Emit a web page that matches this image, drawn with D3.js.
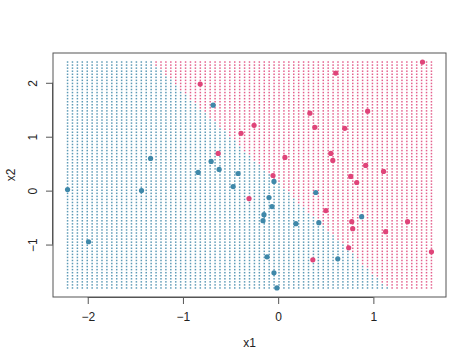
<!DOCTYPE html>
<html><head><meta charset="utf-8">
<script src="https://cdn.jsdelivr.net/npm/d3@7"></script>
<style>body{margin:0;background:#fff}svg{display:block}</style>
</head><body>
<svg id="c" width="474" height="364"></svg>
<script>
// observations: class -1 (blue) and class 1 (pink)
const blueX1 = [-2.212,-1.992,-1.340,-1.435,-0.683,-0.840,-0.704,-0.620,-0.421,-0.473,-0.096,-0.044,-0.065,-0.149,-0.159,-0.117,-0.044,-0.013,0.186,0.395,0.427,0.877,0.626];
const blueX2 = [0.020,-0.948,0.598,0.002,1.585,0.337,0.542,0.393,0.318,0.076,-0.128,0.170,-0.296,-0.445,-0.557,-1.228,-1.525,-1.805,-0.613,-0.035,-0.594,-0.482,-1.265];
const pinkX1 = [-0.819,-0.253,-0.390,-0.630,0.071,-0.054,0.333,0.385,-0.306,0.605,0.940,0.699,0.553,0.574,0.919,1.107,0.762,0.825,1.516,0.501,0.773,0.783,1.129,1.359,0.741,0.364,1.610];
const pinkX2 = [1.976,1.212,1.063,0.691,0.616,0.281,1.436,1.175,-0.147,2.181,1.473,1.156,0.691,0.561,0.467,0.356,0.263,0.151,2.385,-0.370,-0.575,-0.705,-0.761,-0.575,-1.059,-1.283,-1.133];
// decision boundary: x1 where the prediction switches, at given x2
const boundaryX2 = [2.39, -1.80];
const boundaryX1 = [-1.33, 1.15];
const gridN = 75;
const xTicks = [-2,-1,0,1];
const yTicks = [-1,0,1,2];
const colBlue = "#3f88a9", colPink = "#df4479";

const svg = d3.select("#c");
const L=53,R=446,T=53,B=297;
const allX1 = blueX1.concat(pinkX1), allX2 = blueX2.concat(pinkX2);
const ex = d3.extent(allX1), ey = d3.extent(allX2);
const pad = (e)=>{const d=(e[1]-e[0])*0.04;return [e[0]-d,e[1]+d];};
const x = d3.scaleLinear().domain(pad(ex)).range([L,R]);
const y = d3.scaleLinear().domain(pad(ey)).range([B,T]);

// grid (like make.grid)
const gx = d3.range(gridN).map(i=>ex[0]+(ex[1]-ex[0])*i/(gridN-1));
const gy = d3.range(gridN).map(i=>ey[0]+(ey[1]-ey[0])*i/(gridN-1));
const bnd = d3.scaleLinear().domain(boundaryX2).range(boundaryX1);
const grid=[];
gy.forEach(v=>gx.forEach(u=>grid.push({u,v,c:u>bnd(v)?1:-1})));
svg.append("g").selectAll("rect").data(grid).join("rect")
  .attr("x",d=>x(d.u)-0.75).attr("y",d=>y(d.v)-0.75).attr("width",1.5).attr("height",1.5)
  .attr("fill",d=>d.c>0?colPink:colBlue).attr("opacity",0.85);

const pts = blueX1.map((v,i)=>({u:v,v:blueX2[i],c:-1})).concat(pinkX1.map((v,i)=>({u:v,v:pinkX2[i],c:1})));
svg.append("g").selectAll("circle").data(pts).join("circle")
  .attr("cx",d=>x(d.u)).attr("cy",d=>y(d.v)).attr("r",2.6)
  .attr("fill",d=>d.c>0?colPink:colBlue);

svg.append("rect").attr("x",L).attr("y",T).attr("width",R-L).attr("height",B-T)
  .attr("fill","none").attr("stroke","#555").attr("stroke-width",1);

// axes in R style
const ax = svg.append("g").attr("transform",`translate(0,${B})`)
  .call(d3.axisBottom(x).tickValues(xTicks).tickFormat(d3.format("d")).tickSize(7).tickPadding(8));
const ay = svg.append("g").attr("transform",`translate(${L},0)`)
  .call(d3.axisLeft(y).tickValues(yTicks).tickFormat(d3.format("d")).tickSize(7).tickPadding(8));
[ax,ay].forEach(g=>{g.select(".domain").remove();g.selectAll("line").attr("stroke","#555");
  g.selectAll("text").attr("font-family","Liberation Sans, Arial, sans-serif").attr("font-size",12).attr("fill","#222");});
// axis lines spanning ticks
svg.append("line").attr("x1",x(xTicks[0])).attr("x2",x(xTicks[xTicks.length-1])).attr("y1",B+0.5).attr("y2",B+0.5).attr("stroke","#555");
svg.append("line").attr("y1",y(yTicks[0])).attr("y2",y(yTicks[yTicks.length-1])).attr("x1",L-0.5).attr("x2",L-0.5).attr("stroke","#555");
ay.selectAll("text").attr("transform",function(d){return `rotate(-90,${-15},${y(d)})`;})
  .attr("x",-15).attr("y",y=>0).attr("dy","0").attr("text-anchor","middle").attr("dominant-baseline","auto");
ay.selectAll(".tick text").each(function(){d3.select(this).attr("transform",`rotate(-90)`).attr("x",0).attr("y",-16).attr("dy","0");});

svg.append("text").attr("x",(L+R)/2).attr("y",347).attr("text-anchor","middle")
  .attr("font-family","Liberation Sans, Arial, sans-serif").attr("font-size",12).attr("fill","#222").text("x1");
svg.append("text").attr("transform",`translate(15,${(T+B)/2}) rotate(-90)`).attr("text-anchor","middle")
  .attr("font-family","Liberation Sans, Arial, sans-serif").attr("font-size",12).attr("fill","#222").text("x2");
</script>
</body></html>
